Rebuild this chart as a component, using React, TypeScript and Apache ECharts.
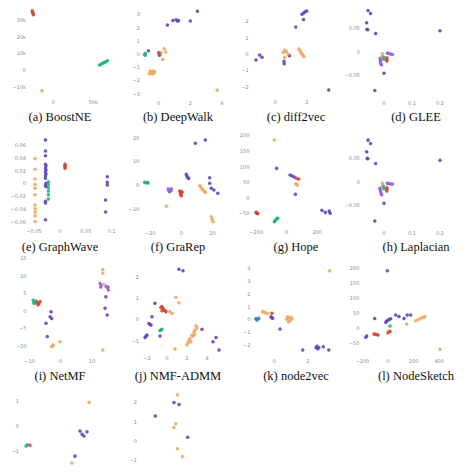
import React, { useEffect, useRef } from 'react';
import * as echarts from 'echarts';

const PURPLE = '#5f45c2';
const VIOLET = '#9560dc';
const ORANGE = '#f2a65e';
const RED = '#d6452f';
const GREEN = '#1fb389';
const BLUE = '#3b7cc0';
const TAN = '#c8b58f';

// (a) BoostNE
const boostneRed = [[-26000, 35500], [-25500, 34800], [-25000, 34000], [-24500, 33200]];
const boostneGreen = [[58000, 3000], [60000, 3500], [62000, 4000], [64000, 4500], [66000, 5000], [68000, 5500]];
const boostneOrange = [[-14000, -12500]];
const boostneXTicks = [0, 50000];
const boostneXLabels = ['0', '50k'];
const boostneYTicks = [-10000, 0, 10000, 20000, 30000];
const boostneYLabels = ['−10k', '0', '10k', '20k', '30k'];

// (b) DeepWalk
const deepwalkPurple = [[2.45, 3.25], [1.1, 2.6], [1.2, 2.5], [1.25, 2.55], [0.9, 2.55], [0.55, 2.2], [2.0, 2.5], [-0.65, 0.25], [0.0, 0.1], [0.05, -0.1]];
const deepwalkGreen = [[-0.85, 0.05], [-0.9, -0.05], [-0.85, -0.1]];
const deepwalkOrange = [[0.35, 0.4], [0.45, 0.15], [0.25, -0.4], [0.15, 0.1], [-0.55, -1.3], [-0.45, -1.35], [-0.35, -1.3], [-0.5, -1.45], [-0.4, -1.5], [-0.3, -1.45], [-0.6, -1.5], [-0.25, -1.35], [3.7, -2.75]];
const deepwalkRed = [[0.05, 0.0]];

// (c) diff2vec
const diff2vecPurple = [[1.7, 2.42], [1.8, 2.5], [1.9, 2.57], [2.0, 2.62], [1.8, 2.1], [1.3, 1.65], [-1.23, -0.36], [-1.0, -0.06], [-0.85, -0.2], [0.57, -0.6], [0.55, -0.45], [0.9, -0.1], [3.4, -2.2]];
const diff2vecOrange = [[0.5, 0.1], [0.6, 0.25], [0.7, 0.15], [0.8, 0.0], [0.6, -0.2], [1.5, 0.3], [1.57, 0.2], [1.63, 0.1], [1.7, 0.0], [1.77, -0.1], [1.82, -0.15]];

// (d) GLEE
const gleePurple = [[-0.057, 0.088], [-0.048, 0.082], [-0.062, 0.062], [-0.061, 0.048], [-0.058, 0.047], [-0.03, 0.039], [0.2, 0.045], [0.0, -0.046], [-0.033, -0.083]];
const gleeViolet = [[-0.014, -0.014], [-0.012, -0.018], [-0.013, -0.022], [-0.011, -0.026], [-0.009, -0.028], [0.012, -0.003], [0.018, -0.004], [0.024, -0.005], [0.03, -0.006]];
const gleeOrange = [[-0.006, -0.004], [-0.005, -0.009], [-0.004, -0.013]];
const gleeGreen = [[-0.001, -0.012], [0.0, -0.016]];
const gleeRed = [[0.01, -0.013], [0.011, -0.017], [0.01, -0.02]];

// (e) GraphWave
const graphwaveOrange = [[-0.048, 0.039], [-0.048, 0.022], [-0.048, 0.0067], [-0.048, -0.0016], [-0.048, -0.0078], [-0.048, -0.018], [-0.048, -0.034], [-0.048, -0.04], [-0.048, -0.045], [-0.048, -0.051], [-0.048, -0.06]];
const graphwavePurple = [[-0.028, 0.068], [-0.028, 0.0505], [-0.028, 0.043], [-0.028, 0.03], [-0.027, 0.027], [-0.028, 0.024], [-0.027, 0.021], [-0.028, 0.018], [-0.027, 0.015], [-0.028, 0.012], [-0.028, 0.008], [-0.027, 0.0], [-0.028, -0.003], [-0.027, -0.005], [-0.028, -0.028], [-0.028, -0.031], [-0.028, -0.057], [0.0913, 0.0103], [0.0913, 0.0016], [0.0913, -0.0027], [0.088, -0.026], [0.088, -0.045]];
const graphwaveGreen = [[-0.0225, 0.0025], [-0.0225, -0.002], [-0.0225, -0.007], [-0.0225, -0.012], [-0.0225, -0.018], [-0.0225, -0.0246]];
const graphwaveRed = [[0.0097, 0.03], [0.0097, 0.028], [0.0097, 0.026], [0.0097, 0.0235]];

// (f) GraRep
const grarepGreen = [[-23.5, 1.2], [-22.8, 1.0], [-22, 1.1], [-21.3, 0.9]];
const grarepViolet = [[-8.5, -1.7], [-8, -2.5], [-7.2, -1.9], [-6.6, -2.3], [-7.5, -2.8], [-6.4, -1.6]];
const grarepRed = [[-1, -2.5], [-0.5, -3.5], [0, -4.5], [0.4, -3], [-0.3, -4], [0.2, -2.8]];
const grarepOrange = [[-9.6, -8.9], [11.8, -0.3], [12.7, -1], [13.5, -1.8], [14.5, -2.5], [15.4, -3.1], [19.2, -13.4], [19.8, -14.5], [20.3, -15.5]];
const grarepPurple = [[3.2, 4.5], [3.6, 3.8], [4, 3.3], [4.7, 2.8], [9, 17.6], [15.4, 19], [18.2, 3.1], [18.2, 0.7], [19.2, -1.4], [20.9, -2.1], [23.4, -3.5]];

// (g) Hope
const hopeOrange = [[-81, 185], [60, 45], [66, 43], [70, 41]];
const hopePurple = [[-66, 94], [22, 73], [35, 70], [50, 66], [57, 11], [231, -40], [253, -47], [279, -43], [285, -50]];
const hopeRed = [[-201, -47], [-197, -49], [-193, -50], [-190, -51], [65, 62], [79, 60]];
const hopeGreen = [[-81, -77], [-76, -73], [-70, -70], [-64, -67], [-59, -66]];

// (h) Laplacian
const laplacianPurple = [[-0.057, 0.089], [-0.048, 0.082], [-0.062, 0.064], [-0.06, 0.05], [-0.058, 0.049], [-0.03, 0.039], [0.2, 0.046], [0.0, -0.046], [-0.033, -0.084]];
const laplacianViolet = [[-0.015, -0.014], [-0.013, -0.018], [-0.012, -0.022], [-0.01, -0.026], [-0.008, -0.028], [0.012, -0.003], [0.018, -0.004], [0.024, -0.005], [0.03, -0.005]];
const laplacianOrange = [[-0.006, -0.003], [-0.005, -0.008], [-0.004, -0.012]];
const laplacianGreen = [[-0.001, -0.011], [0.0, -0.015]];
const laplacianRed = [[0.01, -0.013], [0.011, -0.016], [0.01, -0.02]];

// (i) NetMF
const netmfGreen = [[-8.8, 3.0], [-8.5, 2.6], [-8.2, 2.2], [-7.9, 2.8], [-8.6, 2.1]];
const netmfRed = [[-7.5, 2.4], [-7.0, 2.0], [-6.6, 2.6], [-7.3, 1.7]];
const netmfPurple = [[-3.1, -0.3], [-3.4, -1.7], [-2.9, -2.2], [-4.7, -3.6], [-4.3, -7.4], [14.5, 4], [14.2, 0.7], [14.9, -1.2]];
const netmfViolet = [[12.6, 7.8], [12.8, 6.8], [13, 7.3], [14.5, 7.0], [15, 6.5], [15.3, 5.9], [15.2, 6.8]];
const netmfOrange = [[-2.9, -10.3], [-2.6, -10], [-2.4, -9.8], [-0.2, -8.9], [13.5, 11.8], [13.5, 10.7], [13.8, 7.5], [13.5, -11.2]];

// (j) NMF-ADMM
const nmfPurple = [[1.2, 2.35], [1.6, 2.28], [-1.2, 0.75], [-1.5, 0.12], [-1.8, -0.2], [-1.7, -0.24], [-1.6, -0.27], [-2.2, -0.85], [-2.1, -0.8], [-2.0, -0.74], [-0.7, -0.78], [3.5, -0.47], [4.6, -1.05], [4.9, -0.85], [5.2, -1.44]];
const nmfOrange = [[0.9, 1.03], [1.2, 0.78], [0.3, 0.36], [0.5, 0.28], [3.0, -0.4], [2.9, -0.3], [2.8, -0.5], [2.7, -0.6], [2.75, -0.7], [2.6, -0.8], [2.5, -0.75], [2.3, -0.9], [2.2, -1.0], [2.1, -1.1], [2.0, -1.2], [2.4, -1.05], [0.8, -1.4]];
const nmfRed = [[-0.6, 0.55], [-0.5, 0.6], [-0.4, 0.5], [-0.3, 0.45], [-0.2, 0.4], [-0.5, 0.4], [-0.1, 0.36]];
const nmfGreen = [[-0.7, -0.53], [-0.6, -0.5], [-0.5, -0.47]];

// (k) node2vec
const node2vecBlue = [[-1.1, 0.05], [-1.0, 0.0], [-0.93, 0.08], [-1.05, -0.05]];
const node2vecOrange = [[-0.7, 0.6], [-0.6, 0.55], [-0.5, 0.5], [-0.4, 0.47], [0.74, 0.0], [0.8, 0.2], [0.9, 0.1], [0.95, -0.1], [1.0, 0.15], [1.06, 0.05], [0.85, -0.19], [3.3, 3.8]];
const node2vecRed = [[-0.14, 0.47]];
const node2vecPurple = [[-0.2, 0.2], [-0.1, 0.08], [-0.15, 0.12], [0.34, -0.76], [1.7, -2.4], [2.5, -2.2], [2.55, -2.1], [2.6, -2.3], [2.66, -2.2], [2.93, -2.14], [3.26, -2.4]];

// (l) NodeSketch
const nodesketchPurple = [[-5, 192], [-104, 33], [-18, 20], [-10, 24], [0, 27], [10, 30], [21, 32], [60, 44], [86, 39], [125, 33], [150, 44], [177, 44], [-166, -26], [-174, -30]];
const nodesketchOrange = [[216, 25], [235, 29], [250, 32], [265, 35], [280, 37], [287, 39], [8, -8], [406, -70], [-100, -20], [-90, -21]];
const nodesketchRed = [[16, -11], [0, -15], [-109, -19], [-95, -21], [-78, -22]];
const nodesketchGreen = [[16, 8]];
const nodesketchTan = [[146, 14]];

// (m) bottom-left
const mOrange = [[2.47, 0.93], [1.33, -1.47]];
const mPurple = [[1.87, -0.2], [2.13, -0.4], [2.33, -0.23], [2.0, -0.33], [1.53, -1.2]];
const mGreen = [[-1.73, -0.8], [-1.65, -0.75]];
const mRed = [[-1.47, -0.77]];

// (n) bottom-second
const nOrange = [[0.2, 2.4], [0.1, 0.9], [0.0, 0.7], [0.2, -0.4], [0.5, -0.8]];
const nPurple = [[0.0, 2.0], [0.3, 1.9], [-1.1, 1.3], [0.8, 0.2]];

type Series = [string, number[][]];
interface Panel {
  title: string;
  xr: [number, number, number];
  yr: [number, number, number];
  xpx: [number, number];
  ypx: [number, number];
  xt: number[]; xl: string[];
  yt: number[]; yl: string[];
  tx: number; ty: number;
  series: Series[];
}

const fmt = (v: number) => String(v).replace('-', '−');
const L = (arr: number[]) => arr.map(fmt);

const panels: Panel[] = [
  { title: '(a) BoostNE', xr: [-30000, 70000, 10000], yr: [-15000, 40000, 5000], xpx: [29, 109], ypx: [3.3, 95], xt: boostneXTicks, xl: boostneXLabels, yt: boostneYTicks, yl: boostneYLabels, tx: 60, ty: 118,
    series: [[RED, boostneRed], [GREEN, boostneGreen], [ORANGE, boostneOrange]] },
  { title: '(b) DeepWalk', xr: [-1, 4.5, 0.5], yr: [-3.25, 3.5, 0.25], xpx: [142.9, 229.8], ypx: [7.9, 96.8], xt: [0, 2, 4], xl: L([0, 2, 4]), yt: [-3, -2, -1, 0, 1, 2, 3], yl: L([-3, -2, -1, 0, 1, 2, 3]), tx: 178, ty: 118,
    series: [[PURPLE, deepwalkPurple], [GREEN, deepwalkGreen], [ORANGE, deepwalkOrange], [RED, deepwalkRed]] },
  { title: '(c) diff2vec', xr: [-1.5, 3.5, 0.5], yr: [-2.5, 3, 0.5], xpx: [251.75, 330.3], ypx: [4.8, 95], xt: [0, 2], xl: L([0, 2]), yt: [-2, -1, 0, 1, 2], yl: L([-2, -1, 0, 1, 2]), tx: 296, ty: 118,
    series: [[PURPLE, diff2vecPurple], [ORANGE, diff2vecOrange]] },
  { title: '(d) GLEE', xr: [-0.075, 0.225, 0.025], yr: [-0.095, 0.1, 0.005], xpx: [363, 447], ypx: [5, 96.1], xt: [0, 0.1, 0.2], xl: L([0, 0.1, 0.2]), yt: [-0.05, 0, 0.05], yl: L([-0.05, 0, 0.05]), tx: 416, ty: 118,
    series: [[PURPLE, gleePurple], [VIOLET, gleeViolet], [ORANGE, gleeOrange], [GREEN, gleeGreen], [RED, gleeRed]] },
  { title: '(e) GraphWave', xr: [-0.06, 0.1, 0.01], yr: [-0.065, 0.07, 0.005], xpx: [28.9, 111.8], ypx: [138.6, 224.8], xt: [-0.05, 0, 0.05, 0.1], xl: L([-0.05, 0, 0.05, 0.1]), yt: [-0.06, -0.04, -0.02, 0, 0.02, 0.04, 0.06], yl: L([-0.06, -0.04, -0.02, 0, 0.02, 0.04, 0.06]), tx: 60, ty: 248,
    series: [[ORANGE, graphwaveOrange], [PURPLE, graphwavePurple], [GREEN, graphwaveGreen], [RED, graphwaveRed]] },
  { title: '(f) GraRep', xr: [-25, 25, 5], yr: [-17.5, 25, 2.5], xpx: [142.3, 220.3], ypx: [125.75, 226.5], xt: [-20, 0, 20], xl: L([-20, 0, 20]), yt: [-10, 0, 10, 20], yl: L([-10, 0, 10, 20]), tx: 178, ty: 248,
    series: [[GREEN, grarepGreen], [VIOLET, grarepViolet], [RED, grarepRed], [ORANGE, grarepOrange], [PURPLE, grarepPurple]] },
  { title: '(g) Hope', xr: [-225, 300, 25], yr: [-87.5, 225, 12.5], xpx: [252.4, 332.45], ypx: [127.5, 225], xt: [-200, 0, 200], xl: L([-200, 0, 200]), yt: [-50, 0, 50, 100, 150, 200], yl: L([-50, 0, 50, 100, 150, 200]), tx: 296, ty: 248,
    series: [[ORANGE, hopeOrange], [PURPLE, hopePurple], [RED, hopeRed], [GREEN, hopeGreen]] },
  { title: '(h) Laplacian', xr: [-0.075, 0.225, 0.025], yr: [-0.095, 0.1, 0.005], xpx: [363, 447], ypx: [135, 226.1], xt: [0, 0.1, 0.2], xl: L([0, 0.1, 0.2]), yt: [-0.05, 0, 0.05], yl: L([-0.05, 0, 0.05]), tx: 416, ty: 248,
    series: [[PURPLE, laplacianPurple], [VIOLET, laplacianViolet], [ORANGE, laplacianOrange], [GREEN, laplacianGreen], [RED, laplacianRed]] },
  { title: '(i) NetMF', xr: [-10, 17.5, 2.5], yr: [-12.5, 15, 2.5], xpx: [29.5, 115.3], ypx: [258.2, 354.45], xt: [-10, 0, 10], xl: L([-10, 0, 10]), yt: [-10, -5, 0, 5, 10, 15], yl: L([-10, -5, 0, 5, 10, 15]), tx: 60, ty: 377,
    series: [[GREEN, netmfGreen], [RED, netmfRed], [PURPLE, netmfPurple], [VIOLET, netmfViolet], [ORANGE, netmfOrange]] },
  { title: '(j) NMF-ADMM', xr: [-2.5, 5.5, 0.5], yr: [-1.5, 2.75, 0.25], xpx: [142, 222], ypx: [260.7, 351.25], xt: [-2, 0, 2, 4], xl: L([-2, 0, 2, 4]), yt: [-1, 0, 1, 2], yl: L([-1, 0, 1, 2]), tx: 178, ty: 377,
    series: [[PURPLE, nmfPurple], [ORANGE, nmfOrange], [RED, nmfRed], [GREEN, nmfGreen]] },
  { title: '(k) node2vec', xr: [-1.25, 3.75, 0.25], yr: [-2.75, 4.5, 0.25], xpx: [253.4, 337], ypx: [261.7, 354.5], xt: [0, 2], xl: L([0, 2]), yt: [-2, -1, 0, 1, 2, 3, 4], yl: L([-2, -1, 0, 1, 2, 3, 4]), tx: 296, ty: 377,
    series: [[BLUE, node2vecBlue], [ORANGE, node2vecOrange], [RED, node2vecRed], [PURPLE, node2vecPurple]] },
  { title: '(l) NodeSketch', xr: [-200, 475, 25], yr: [-87.5, 225, 12.5], xpx: [362.4, 448.8], ypx: [260.8, 354.55], xt: [-200, 0, 200, 400], xl: L([-200, 0, 200, 400]), yt: [-50, 0, 50, 100, 150, 200], yl: L([-50, 0, 50, 100, 150, 200]), tx: 416, ty: 377,
    series: [[PURPLE, nodesketchPurple], [ORANGE, nodesketchOrange], [RED, nodesketchRed], [GREEN, nodesketchGreen], [TAN, nodesketchTan]] },
  { title: '', xr: [-2, 4, 0.5], yr: [-1.75, 1.5, 0.25], xpx: [22, 112], ypx: [388, 485], xt: [], xl: [], yt: [-1, 0, 1], yl: L([-1, 0, 1]), tx: 60, ty: 510,
    series: [[ORANGE, mOrange], [PURPLE, mPurple], [GREEN, mGreen], [RED, mRed]] },
  { title: '', xr: [-2, 3, 0.5], yr: [-1.5, 2.75, 0.25], xpx: [140, 225], ypx: [388, 485], xt: [], xl: [], yt: [-1, 0, 1, 2], yl: L([-1, 0, 1, 2]), tx: 178, ty: 510,
    series: [[ORANGE, nOrange], [PURPLE, nPurple]] },
];

const near = (v: number, arr: number[], step: number) => arr.findIndex((t) => Math.abs(t - v) < step * 1e-3);

export default function App() {
  const ref = useRef<HTMLDivElement>(null);
  useEffect(() => {
    if (!ref.current) return;
    const chart = echarts.init(ref.current, undefined, { renderer: 'svg' });
    const grid: any[] = [];
    const xAxis: any[] = [];
    const yAxis: any[] = [];
    const series: any[] = [];
    const title: any[] = [];
    const labelStyle = { fontSize: 5, color: '#8c8c8c', fontFamily: 'DejaVu Sans' };
    panels.forEach((p, i) => {
      grid.push({ left: p.xpx[0], top: p.ypx[0], width: p.xpx[1] - p.xpx[0], height: p.ypx[1] - p.ypx[0], containLabel: false });
      const common = { axisLine: { show: false }, axisTick: { show: false }, splitLine: { show: false } };
      xAxis.push({
        type: 'value', gridIndex: i, min: p.xr[0], max: p.xr[1], interval: p.xr[2], ...common,
        axisLabel: { ...labelStyle, margin: 4, formatter: (v: number) => { const k = near(v, p.xt, p.xr[2]); return k >= 0 ? p.xl[k] : ''; } },
      });
      yAxis.push({
        type: 'value', gridIndex: i, min: p.yr[0], max: p.yr[1], interval: p.yr[2], ...common,
        axisLabel: { ...labelStyle, margin: 3, formatter: (v: number) => { const k = near(v, p.yt, p.yr[2]); return k >= 0 ? p.yl[k] : ''; } },
      });
      p.series.forEach(([color, data]) => {
        series.push({ type: 'scatter', xAxisIndex: i, yAxisIndex: i, data, symbolSize: 3.5, itemStyle: { color, opacity: 0.9 }, silent: true });
      });
      if (p.title) {
        title.push({
          text: p.title, left: p.tx, top: p.ty - 8, textAlign: 'center', padding: 0,
          textStyle: { fontFamily: 'Liberation Serif', fontSize: 12.5, fontWeight: 'normal', color: '#111' },
        });
      }
    });
    chart.setOption({ animation: false, backgroundColor: '#fff', title, grid, xAxis, yAxis, series });
    return () => chart.dispose();
  }, []);
  return <div ref={ref} style={{ position: 'fixed', left: 0, top: 0, width: 474, height: 474 }} />;
}
